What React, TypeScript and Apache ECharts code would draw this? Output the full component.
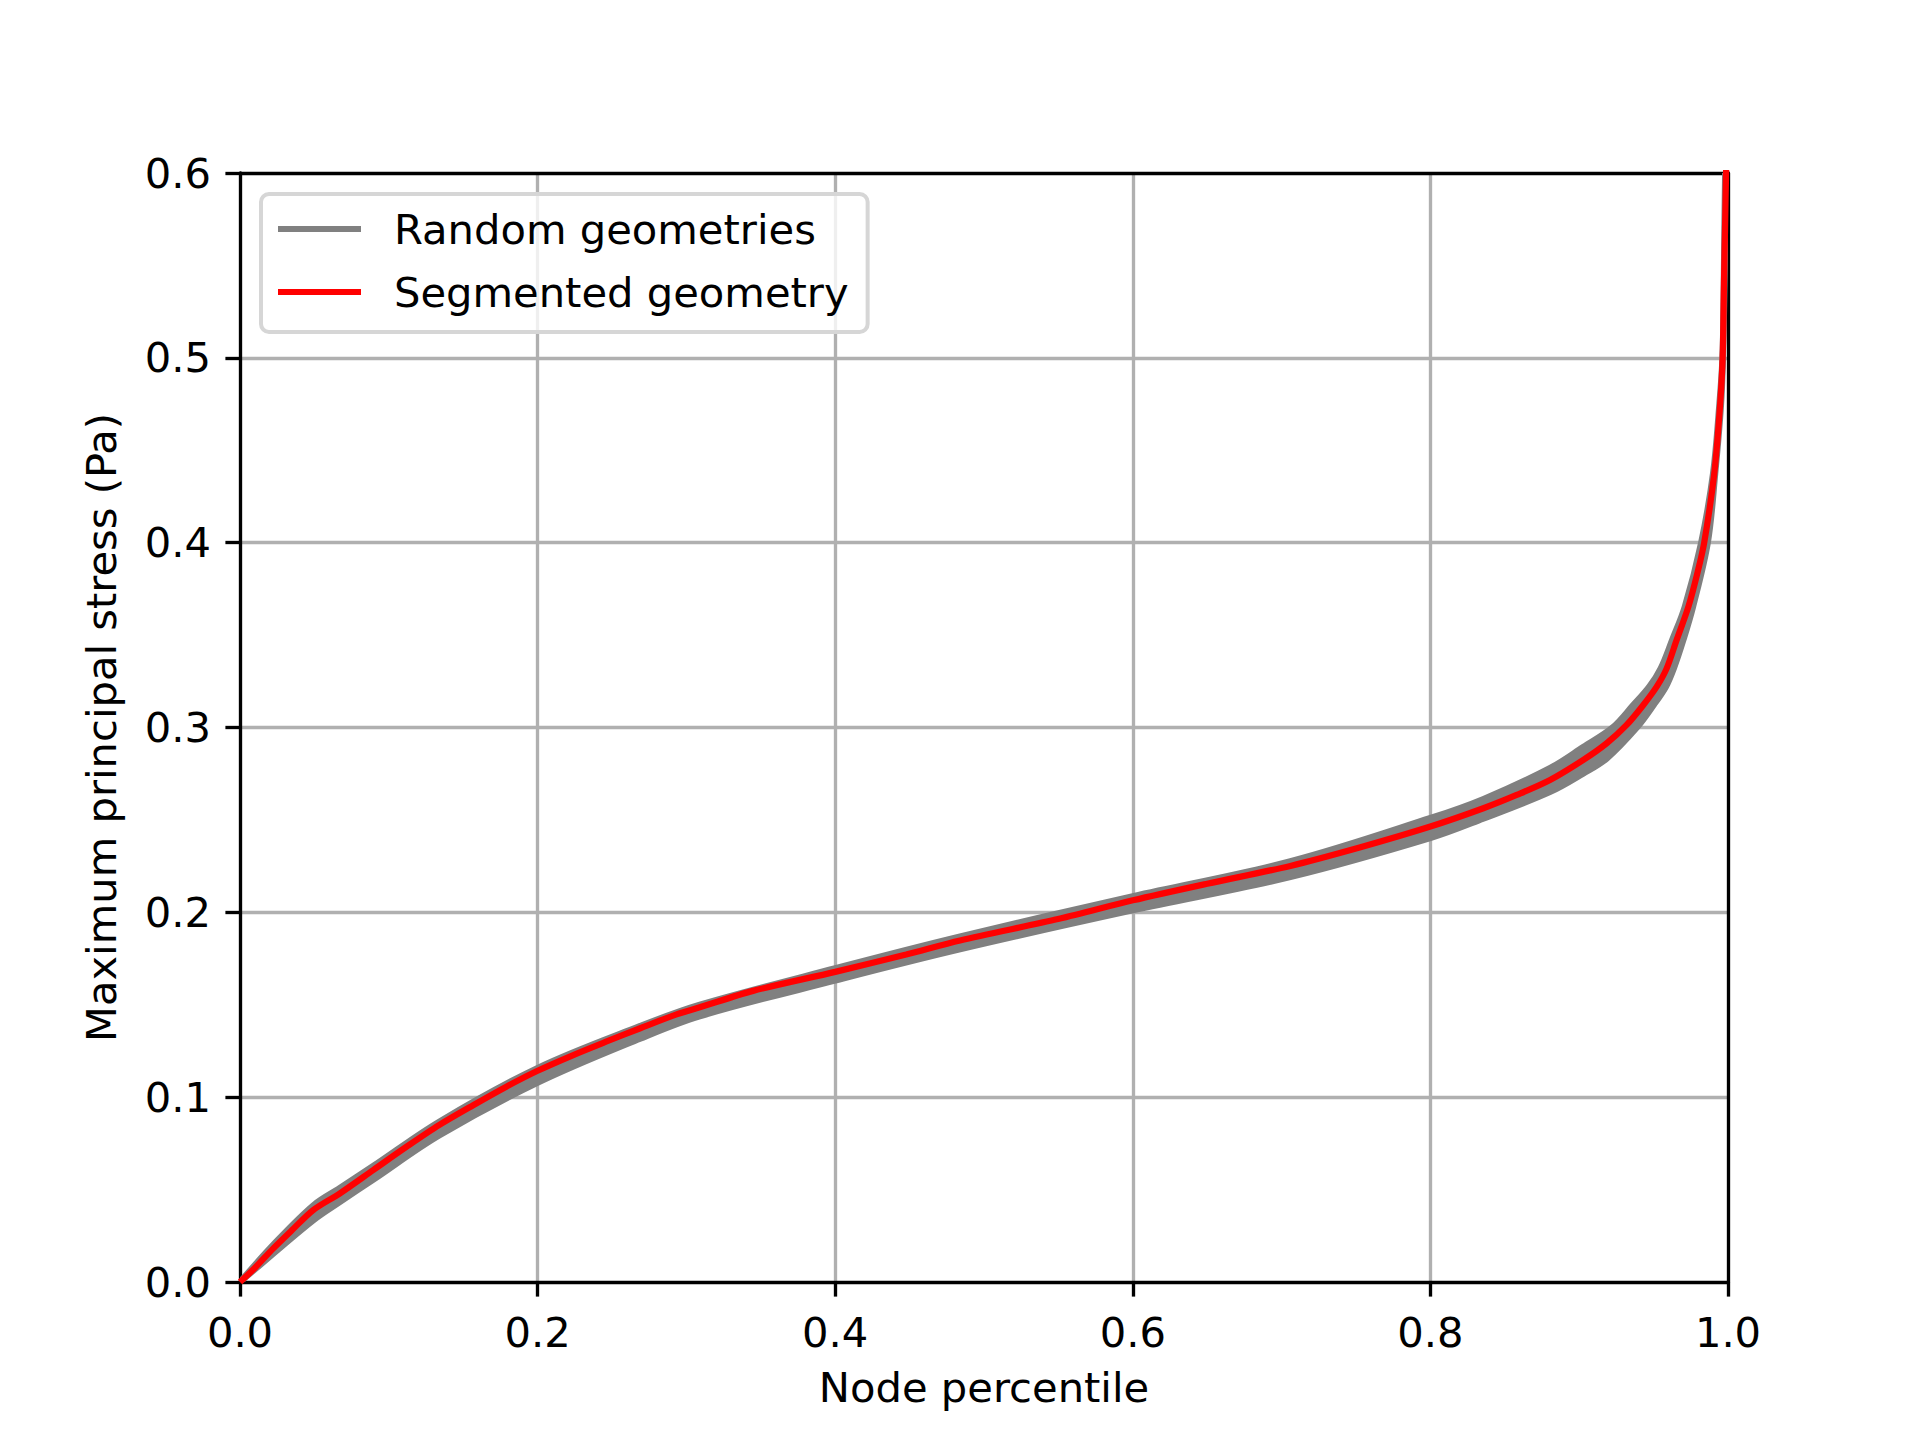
import React, { useEffect, useRef } from "react";
import * as echarts from "echarts";

// ---- Data ----
const segmentedX = [
  0, 0.0101, 0.0224, 0.035, 0.0493, 0.0672, 0.0896, 0.112, 0.134, 0.157, 0.179, 0.2, 0.224, 0.246, 0.269,
  0.2934, 0.309, 0.3448, 0.4, 0.4477, 0.4839, 0.5505, 0.6, 0.65, 0.7059, 0.753, 0.8, 0.8356, 0.858, 0.8804,
  0.9028, 0.9185, 0.9319, 0.9431, 0.9521, 0.9588, 0.9655, 0.9734, 0.9794, 0.984, 0.9908, 0.9946, 0.9964,
  0.9973, 0.998, 0.9987, 0.9992,
];
const segmentedY = [
  0, 0.0077, 0.0182, 0.0281, 0.039, 0.048, 0.0606, 0.0732, 0.085, 0.0958, 0.1057, 0.1143, 0.1228, 0.13,
  0.1373, 0.1448, 0.1486, 0.1575, 0.1678, 0.1772, 0.1848, 0.1965, 0.2065, 0.2155, 0.2251, 0.2352, 0.2464,
  0.2563, 0.2635, 0.2716, 0.2825, 0.2915, 0.3014, 0.3122, 0.3221, 0.332, 0.3474, 0.3654, 0.3835, 0.4,
  0.4376, 0.4736, 0.5, 0.54, 0.57, 0.6, 0.62,
];

// Upper (left) and lower (right) envelopes of the bundle of random-geometry curves
const randomUpperX = [
  0, 0.0224, 0.0493, 0.0672, 0.0896, 0.134, 0.2, 0.269, 0.309, 0.4, 0.4839, 0.6, 0.7059, 0.8, 0.8356,
  0.8804, 0.9028, 0.9225, 0.9364, 0.9471, 0.9548, 0.9625, 0.971, 0.982, 0.99, 0.9941, 0.9963, 0.9972,
  0.9981, 0.999,
];
const randomUpperY = [
  0, 0.0202, 0.0415, 0.0509, 0.0628, 0.0868, 0.1158, 0.1385, 0.15, 0.1697, 0.1869, 0.2087, 0.2276, 0.251,
  0.2613, 0.2781, 0.2895, 0.3, 0.3122, 0.3221, 0.332, 0.3474, 0.3654, 0.4, 0.4376, 0.4736, 0.5, 0.54, 0.6,
  0.62,
];
const randomLowerX = [
  0, 0.0224, 0.0493, 0.0672, 0.0896, 0.134, 0.2, 0.269, 0.309, 0.4, 0.4839, 0.6, 0.7059, 0.8, 0.8356,
  0.8804, 0.9028, 0.9185, 0.9388, 0.9501, 0.9583, 0.9636, 0.97, 0.9765, 0.9864, 0.9914, 0.9952, 0.9966,
  0.9976, 0.9988, 0.9998,
];
const randomLowerY = [
  0, 0.0153, 0.0334, 0.0433, 0.0554, 0.0794, 0.1078, 0.1317, 0.1438, 0.1631, 0.18, 0.2011, 0.2191, 0.2402,
  0.2507, 0.2651, 0.2751, 0.2832, 0.3, 0.3122, 0.3221, 0.332, 0.3474, 0.3654, 0.4, 0.4376, 0.4736, 0.5,
  0.54, 0.6, 0.62,
];

const xTickLabels = ["0.0", "0.2", "0.4", "0.6", "0.8", "1.0"];
const yTickLabels = ["0.0", "0.1", "0.2", "0.3", "0.4", "0.5", "0.6"];

const FONT = "DejaVu Sans";
const FS = 41.67;
const LW = 3.33;

export default function App() {
  const ref = useRef<HTMLDivElement>(null);

  useEffect(() => {
    if (!ref.current) return;
    const chart = echarts.init(ref.current, undefined, { renderer: "svg" });

    const segData = segmentedX.map((x, i) => [x, segmentedY[i]]);
    const upper = randomUpperX.map((x, i) => [x, randomUpperY[i]]);
    const lower = randomLowerX.map((x, i) => [x, randomLowerY[i]]);

    const option: any = {
      animation: false,
      backgroundColor: "#ffffff",
      textStyle: { fontFamily: FONT },
      grid: { left: 240, right: 192, top: 173, bottom: 158 },
      legend: {
        orient: "vertical",
        left: 261,
        top: 194,
        padding: [14, 19, 19, 17],
        itemGap: 21,
        itemWidth: 83,
        itemHeight: 6,
        backgroundColor: "rgba(255,255,255,0.8)",
        borderColor: "#d6d6d6",
        borderWidth: 4,
        borderRadius: 8,
        textStyle: {
          fontFamily: FONT,
          fontSize: FS,
          color: "#000",
          lineHeight: 42,
          padding: [0, 0, 0, 28],
        },
        data: [
          { name: "Random geometries", icon: "rect", itemStyle: { color: "#808080" } },
          { name: "Segmented geometry", icon: "rect", itemStyle: { color: "#ff0000" } },
        ],
      },
      xAxis: [
        {
          type: "value",
          min: 0,
          max: 1,
          interval: 0.2,
          name: "Node percentile",
          nameLocation: "middle",
          nameGap: 84,
          nameTextStyle: { fontFamily: FONT, fontSize: FS, color: "#000" },
          axisLine: { show: true, onZero: false, lineStyle: { color: "#000", width: LW } },
          axisTick: { show: true, inside: false, length: 14.6, lineStyle: { color: "#000", width: LW } },
          axisLabel: {
            fontFamily: FONT,
            fontSize: FS,
            color: "#000",
            margin: 29,
            formatter: (v: number) => xTickLabels[Math.round(v / 0.2)] ?? "",
          },
          splitLine: {
            show: true,
            showMinLine: false,
            showMaxLine: false,
            lineStyle: { color: "#b0b0b0", width: LW },
          },
        },
        {
          type: "value",
          position: "top",
          min: 0,
          max: 1,
          axisLine: { show: true, onZero: false, lineStyle: { color: "#000", width: LW } },
          axisTick: { show: false },
          axisLabel: { show: false },
          splitLine: { show: false },
        },
      ],
      yAxis: [
        {
          type: "value",
          min: 0,
          max: 0.6,
          interval: 0.1,
          name: "Maximum principal stress (Pa)",
          nameLocation: "middle",
          nameGap: 118,
          nameTextStyle: { fontFamily: FONT, fontSize: FS, color: "#000" },
          axisLine: { show: true, onZero: false, lineStyle: { color: "#000", width: LW } },
          axisTick: { show: true, inside: false, length: 14.6, lineStyle: { color: "#000", width: LW } },
          axisLabel: {
            fontFamily: FONT,
            fontSize: FS,
            color: "#000",
            margin: 29,
            formatter: (v: number) => yTickLabels[Math.round(v / 0.1)] ?? "",
          },
          splitLine: {
            show: true,
            showMinLine: false,
            showMaxLine: false,
            lineStyle: { color: "#b0b0b0", width: LW },
          },
        },
        {
          type: "value",
          position: "right",
          min: 0,
          max: 0.6,
          axisLine: { show: true, onZero: false, lineStyle: { color: "#000", width: LW } },
          axisTick: { show: false },
          axisLabel: { show: false },
          splitLine: { show: false },
        },
      ],
      series: [
        {
          type: "custom",
          name: "Random geometries",
          coordinateSystem: "cartesian2d",
          xAxisIndex: 0,
          yAxisIndex: 0,
          clip: true,
          silent: true,
          itemStyle: { color: "#808080" },
          data: [[0, 0]],
          renderItem: (_params: any, api: any) => {
            const upperPts = upper.map((p) => api.coord(p));
            const lowerPts = lower
              .slice(1)
              .reverse()
              .map((p) => api.coord(p));
            return {
              type: "group",
              children: [
                {
                  type: "polygon",
                  shape: { points: [...upperPts, ...lowerPts] },
                  style: { fill: "#808080", stroke: "#808080", lineWidth: 2 },
                },
                {
                  type: "polyline",
                  shape: { points: upperPts, smooth: 0.35 },
                  style: { fill: "none", stroke: "#808080", lineWidth: 6.25, lineJoin: "round", lineCap: "round" },
                },
                {
                  type: "polyline",
                  shape: { points: lower.map((p) => api.coord(p)), smooth: 0.35 },
                  style: { fill: "none", stroke: "#808080", lineWidth: 6.25, lineJoin: "round", lineCap: "round" },
                },
              ],
            };
          },
          z: 2,
        },
        {
          type: "line",
          name: "Segmented geometry",
          xAxisIndex: 0,
          yAxisIndex: 0,
          data: segData,
          symbol: "none",
          showSymbol: false,
          smooth: 0.3,
          clip: true,
          lineStyle: { color: "#ff0000", width: 6.25 },
          itemStyle: { color: "#ff0000" },
          z: 3,
        },
      ],
    };

    chart.setOption(option);
    return () => chart.dispose();
  }, []);

  return (
    <div
      ref={ref}
      style={{ position: "absolute", left: 0, top: 0, width: 1920, height: 1440 }}
    />
  );
}
